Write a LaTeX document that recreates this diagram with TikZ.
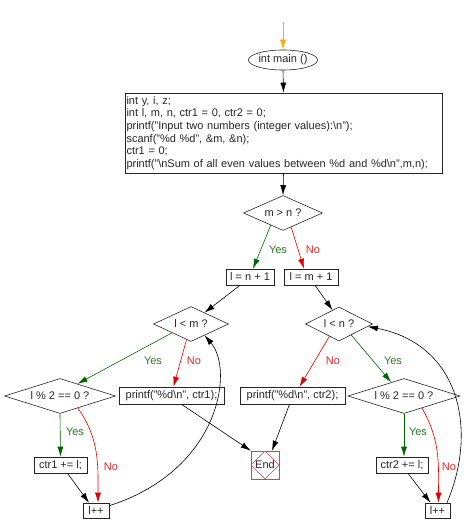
\documentclass[tikz,border=0pt]{standalone}
\usepackage{fontspec}
\setmainfont{Liberation Sans}
\usetikzlibrary{shapes.geometric,arrows.meta,calc}
\definecolor{orangearr}{RGB}{255,170,0}
\definecolor{yesgreen}{RGB}{0,100,0}
\definecolor{nored}{RGB}{225,0,0}
\definecolor{yestext}{RGB}{40,120,40}
\definecolor{notext}{RGB}{220,40,40}
\definecolor{endred}{RGB}{200,70,90}
\begin{document}
\begin{tikzpicture}[x=1pt,y=-1pt,
  every node/.style={font=\fontsize{11}{12.6}\selectfont, text=black!85},
  procbox/.style={draw=black!85, line width=0.6pt, rectangle, inner sep=0pt},
  decbox/.style={draw=black!85, line width=0.6pt, diamond, aspect=3, inner sep=0pt},
  arr/.style={-{Latex[length=10pt,width=6pt]}, line width=0.6pt, black},
  yesarr/.style={arr, yesgreen},
  noarr/.style={arr, nored},
  yeslbl/.style={text=yestext},
  nolbl/.style={text=notext}
]
\useasboundingbox (0,0) rectangle (474,532);

\coordinate (start) at (283,22);
\node[draw=black!85, line width=0.6pt, ellipse, minimum width=67pt, minimum height=20pt, inner sep=0pt] (main) at (283,60) {int main ()};
\node[procbox, minimum width=317pt, minimum height=80pt, text width=314pt, align=left] (init) at (283.5,133)
 {int y, i, z;\\
  int l, m, n, ctr1 = 0, ctr2 = 0;\\
  printf("Input two numbers (integer values):\textbackslash n");\\
  scanf("\%d \%d", \&m, \&n);\\
  ctr1 = 0;\\
  printf("\textbackslash nSum of all even values between \%d and \%d\textbackslash n",m,n);};

\node[decbox, minimum width=79pt, minimum height=35pt] (d1) at (283,213) {m > n ?};
\node[procbox, minimum width=48pt, minimum height=16pt] (n1) at (250,277) {l = n + 1};
\node[procbox, minimum width=54pt, minimum height=16pt] (n2) at (311,277) {l = m + 1};
\node[decbox, minimum width=75pt, minimum height=35pt] (d2) at (191,324) {l < m ?};
\node[decbox, minimum width=67pt, minimum height=34pt] (d3) at (339,324) {l < n ?};
\node[decbox, minimum width=111pt, minimum height=35pt] (d4) at (60,396) {l \% 2 == 0 ?};
\node[decbox, minimum width=112pt, minimum height=35pt] (d5) at (404,396) {l \% 2 == 0 ?};
\node[procbox, minimum width=105pt, minimum height=17pt] (p1) at (171.5,395.5) {printf("\%d\textbackslash n", ctr1);};
\node[procbox, minimum width=105pt, minimum height=17pt] (p2) at (292.5,395.5) {printf("\%d\textbackslash n", ctr2);};
\node[procbox, minimum width=53pt, minimum height=16pt] (c1) at (60.5,465) {ctr1 += l;};
\node[procbox, minimum width=52pt, minimum height=16pt] (c2) at (402,465) {ctr2 += l;};
\node[procbox, minimum width=26pt, minimum height=15pt] (lp1) at (96,510.5) {l++};
\node[procbox, minimum width=25pt, minimum height=15pt] (lp2) at (437.5,510.5) {l++};
\node[draw=endred, line width=0.6pt, rectangle, minimum size=28pt, inner sep=0pt,
  path picture={\draw[endred, line width=0.6pt] (path picture bounding box.north) -- (path picture bounding box.east) -- (path picture bounding box.south) -- (path picture bounding box.west) -- cycle;}] (End) at (265,465) {End};

% labels
\node[yeslbl] (y1) at (278,250) {Yes};
\node[nolbl] (no1) at (313,250) {No};
\node[yeslbl] (y2) at (153,361) {Yes};
\node[nolbl] (no2) at (194,361) {No};
\node[nolbl] (no3) at (333,361) {No};
\node[yeslbl] (y3) at (393,361) {Yes};
\node[yeslbl] (y4) at (75,432) {Yes};
\node[nolbl] (no4) at (111,467) {No};
\node[yeslbl] (y5) at (418,432) {Yes};
\node[nolbl] (no5) at (449,467) {No};

% connectors
\draw[arr, orangearr] (start) -- (main.north);
\draw[arr] (main.south) -- (init.north);
\draw[arr] (init.south) -- (d1.north);
\draw[yesarr] (d1.-135) -- ([xshift=3pt]n1.north);
\draw[noarr] (d1.-60) -- ([xshift=-7pt]n2.north);
\draw[arr] ([xshift=-10pt]n1.south) -- (d2.40);
\draw[arr] ([xshift=4pt]n2.south) -- (d3.115);
\draw[yesarr] (d2.-155) -- (d4.35);
\draw[noarr] (d2.-106) -- ([xshift=2pt]p1.north);
\draw[noarr] (d3.-128) -- ([xshift=7pt]p2.north);
\draw[yesarr] (d3.-42) -- (d5.133);
\draw[yesarr] (d4.south) -- (c1.north);
\draw[noarr] (d4.-34) to[out=-55,in=90] ([xshift=2pt]lp1.north);
\draw[yesarr] (d5.south) -- ([xshift=2pt]c2.north);
\draw[noarr] (d5.-34) to[out=-60,in=90] ([xshift=1pt]lp2.north);
\draw[arr] ([xshift=7pt]c1.south) -- ([xshift=-7pt]lp1.north);
\draw[arr] ([xshift=6pt]c2.south) -- ([xshift=-7pt]lp2.north);
\draw[arr] (lp1.20) .. controls +(110,-35) and +(30,35) .. (d2.-40);
\draw[arr] ([xshift=9.5pt]lp2.north) .. controls +(31,-73) and +(92,18) .. (d3.-5);
\draw[arr] ([xshift=10pt]p1.south) -- (End.north west);
\draw[arr] ([xshift=-3pt]p2.south) -- ([xshift=7pt]End.north);
\end{tikzpicture}
\end{document}
